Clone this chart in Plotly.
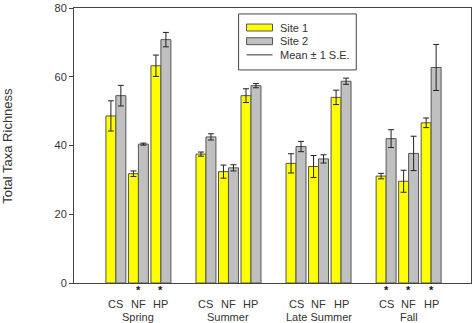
import plotly.graph_objects as go

seasons = ["Spring", "Summer", "Late Summer", "Fall"]
sites = ["CS", "NF", "HP"]

site1_mean = [48.6, 31.8, 63.2, 37.5, 32.4, 54.5, 34.8, 33.9, 54.0, 31.1, 29.6, 46.6]
site1_se = [4.4, 0.8, 3.1, 0.6, 1.9, 2.0, 2.8, 3.2, 2.1, 0.8, 3.2, 1.4]
site2_mean = [54.5, 40.4, 70.8, 42.5, 33.5, 57.4, 39.7, 36.1, 58.7, 42.0, 37.7, 62.7]
site2_se = [3.0, 0.3, 2.1, 0.9, 0.9, 0.6, 1.5, 1.2, 0.9, 2.6, 5.0, 6.7]
significant = [False, True, True, False, False, False, False, False, False, True, True, True]
legend_names = ["Site 1", "Site 2", "Mean \u00b1 1 S.E."]
yticks = [0, 20, 40, 60, 80]

# positions: each season group of 3 pairs, gap of one slot between groups
xpos = [4 * g + k for g in range(len(seasons)) for k in range(len(sites))]
labels = [s for _ in seasons for s in sites]

text_color = "#333333"
family = "Liberation Sans, Arial, sans-serif"
font = dict(family=family, size=11, color=text_color)
yellow = "#FFFF00"
grey = "#C0C0C0"
edge = "#555555"

W, H = 474, 323
ML, MR, MT, MB = 74, 2, 6, 39.5
pw, ph = W - ML - MR, H - MT - MB


def px(xp):
    return (xp - ML) / pw


def py(yp):
    return (H - MB - yp) / ph


fig = go.Figure()
fig.add_trace(go.Bar(
    x=xpos, y=site1_mean, name=legend_names[0],
    marker=dict(color=yellow, line=dict(color=edge, width=1)),
    error_y=dict(type="data", array=site1_se, color="#222222", thickness=1, width=3),
))
fig.add_trace(go.Bar(
    x=xpos, y=site2_mean, name=legend_names[1],
    marker=dict(color=grey, line=dict(color=edge, width=1)),
    error_y=dict(type="data", array=site2_se, color="#222222", thickness=1, width=3),
))

annotations = []
shapes = []
for x, lab in zip(xpos, labels):
    annotations.append(dict(
        x=x, y=py(304.5), xref="x", yref="paper", text=lab, borderpad=0,
        showarrow=False, font=font, xanchor="center", yanchor="middle",
    ))
for g, season in enumerate(seasons):
    annotations.append(dict(
        x=4 * g + 1, y=py(317.5), xref="x", yref="paper", text=season, borderpad=0,
        showarrow=False, font=font, xanchor="center", yanchor="middle",
    ))
for x, sig in zip(xpos, significant):
    if sig:
        annotations.append(dict(
            x=x, y=py(284), xref="x", yref="paper", text="<b>*</b>", borderpad=0,
            showarrow=False, font=dict(family=family, size=11, color="#111111"),
            xanchor="center", yanchor="top",
        ))
annotations.append(dict(
    x=-0.168, y=0.5, xref="paper", yref="paper", text="Total Taxa Richness",
    showarrow=False, textangle=-90, font=dict(family=family, size=13, color=text_color),
    xanchor="center", yanchor="middle",
))

# legend drawn as a box
shapes.append(dict(type="rect", xref="paper", yref="paper",
                   x0=px(239), x1=px(357), y0=py(68.5), y1=py(12),
                   line=dict(color="#444444", width=1), fillcolor="white", layer="above"))
rows = [25.7, 39.5, 53.3]
for i, (name, yr) in enumerate(zip(legend_names, rows)):
    if i < 2:
        shapes.append(dict(type="rect", xref="paper", yref="paper",
                           x0=px(247), x1=px(273), y0=py(yr + 3.5), y1=py(yr - 3.5),
                           line=dict(color=edge, width=1),
                           fillcolor=[yellow, grey][i], layer="above"))
    else:
        shapes.append(dict(type="line", xref="paper", yref="paper",
                           x0=px(247), x1=px(273), y0=py(yr), y1=py(yr),
                           line=dict(color="#333333", width=1), layer="above"))
    annotations.append(dict(
        x=px(279), y=py(yr), xref="paper", yref="paper", text=name,
        showarrow=False, font=font, xanchor="left", yanchor="middle",
    ))

fig.update_layout(
    width=W, height=H,
    margin=dict(l=ML, r=MR, t=MT, b=MB),
    paper_bgcolor="white", plot_bgcolor="white",
    barmode="group", bargap=0.114, bargroupgap=0,
    font=font,
    showlegend=False,
    annotations=annotations,
    shapes=shapes,
)
fig.update_xaxes(
    range=[-1.86, 15.77], showticklabels=False,
    showline=True, linecolor="#444444", linewidth=1, mirror=True,
    ticks="", showgrid=False, zeroline=False,
)
fig.update_yaxes(
    range=[0, 80], tickmode="array", tickvals=yticks, ticktext=[str(t) for t in yticks],
    showline=True, linecolor="#444444", linewidth=1, mirror=True,
    ticks="outside", ticklen=4, tickcolor="#444444", showgrid=False, zeroline=False,
    tickfont=font, ticklabeloverflow="allow",
)

fig.write_html("out.html")
